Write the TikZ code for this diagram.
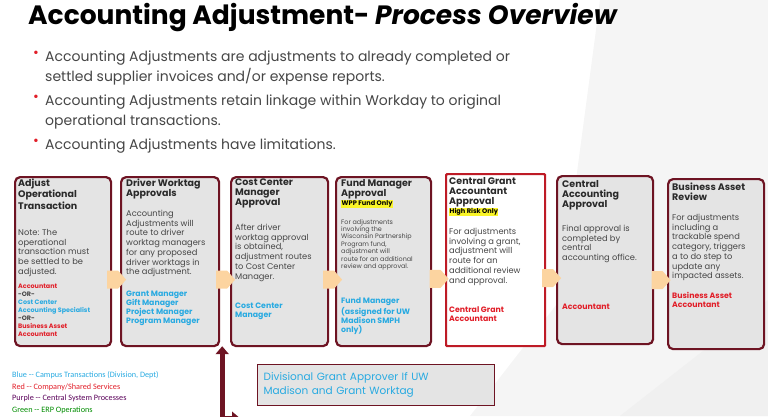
\documentclass[tikz,border=0pt]{standalone}
\usepackage{fontspec}
\setmainfont{Poppins}
\newfontfamily\legendfont{Carlito}
\usetikzlibrary{positioning,calc,arrows.meta}
\definecolor{wine}{RGB}{110,20,35}
\definecolor{uwred}{RGB}{225,30,40}
\definecolor{uwblue}{RGB}{40,170,225}
\definecolor{boxgray}{RGB}{228,228,228}
\definecolor{textgray}{RGB}{70,70,70}
\definecolor{peach}{RGB}{252,212,160}
\definecolor{hl}{RGB}{250,245,40}
\begin{document}
\begin{tikzpicture}[x=1pt,y=-1pt,
  stepbox/.style={draw=wine,line width=2.2pt,fill=boxgray,rounded corners=5pt,anchor=north west,inner sep=0pt},
  head/.style={anchor=north west,font=\bfseries\fontsize{9.5}{10}\selectfont,text=textgray!60!black,align=left,inner sep=0pt},
  body/.style={anchor=north west,font=\fontsize{8.3}{9.7}\selectfont,text=textgray,align=left,inner sep=0pt},
  role/.style={anchor=north west,font=\bfseries\fontsize{7.8}{9}\selectfont,align=left,inner sep=0pt},
  legend/.style={anchor=west,font=\legendfont\fontsize{8.2}{9}\selectfont,inner sep=0pt}
  ]
  \useasboundingbox (0,0) rectangle (768,416);
  % faint background shapes
  \fill[gray!8] (600,0) -- (768,0) -- (768,416) -- (470,416) -- (560,300) -- cycle;
  \fill[gray!12] (620,416) -- (768,300) -- (768,416) -- cycle;

  \node[anchor=west,inner sep=0pt,font=\bfseries\fontsize{26.5}{28}\selectfont] (title) at (28,18)
    {Accounting Adjustment- \textit{Process Overview}};

  \foreach \n/\y/\t in {b1/60/{Accounting Adjustments are adjustments to already completed or\\settled supplier invoices and/or expense reports.},
    b2/104/{Accounting Adjustments retain linkage within Workday to original\\operational transactions.},
    b3/148/{Accounting Adjustments have limitations.}}{
    \node[anchor=north west,inner sep=0pt,font=\fontsize{14}{20}\selectfont,text=textgray,align=left] (\n) at (45,\y-9) {\t};
    \node[anchor=north east,inner sep=0pt,text=uwred,font=\fontsize{14}{20}\selectfont] (\n dot) at ([xshift=-6pt]\n.north west) {\textbullet};
  }

  % boxes
  \node[stepbox,minimum width=96pt,minimum height=169pt] (s1) at (14,176) {};
  \node[stepbox,minimum width=98pt,minimum height=169pt] (s2) at (120,176) {};
  \node[stepbox,minimum width=97pt,minimum height=169pt] (s3) at (230,176) {};
  \node[stepbox,minimum width=95pt,minimum height=169pt] (s4) at (335,176) {};
  \node[stepbox,fill=white,draw=uwred!70!wine,rounded corners=1pt,minimum width=99pt,minimum height=172pt] (s5) at (445,173) {};
  \node[stepbox,minimum width=96pt,minimum height=168pt] (s6) at (556,175) {};
  \node[stepbox,minimum width=96pt,minimum height=170pt] (s7) at (667,178) {};

  % chevrons
  \foreach \a/\b in {s1/s2,s2/s3,s3/s4,s4/s5,s5/s6,s6/s7}{
    \coordinate (\a\b) at ($(\a.east)!0.5!(\b.west)$);
    \fill[peach] ([xshift=-9pt,yshift=-9pt]\a\b) -- ++(11,0) -- ++(8,9) -- ++(-8,9) -- ++(-11,0) -- cycle;
  }

  % box 1
  \node[head] (h1) at (18,179) {Adjust\\Operational\\Transaction};
  \node[body] (t1) at (18,229) {Note: The\\operational\\transaction must\\be settled to be\\adjusted.};
  \node[role,font=\bfseries\fontsize{6.4}{8}\selectfont] (r1) at (18,284)
    {\textcolor{uwred}{Accountant}\\\textcolor{textgray}{-OR-}\\\textcolor{uwblue}{Cost Center}\\\textcolor{uwblue}{Accounting Specialist}\\\textcolor{textgray}{-OR-}\\\textcolor{uwred}{Business Asset}\\\textcolor{uwred}{Accountant}};
  % box 2
  \node[head] (h2) at (126,179) {Driver Worktag\\Approvals};
  \node[body] (t2) at (126,210) {Accounting\\Adjustments will\\route to driver\\worktag managers\\for any proposed\\driver worktags in\\the adjustment.};
  \node[role,text=uwblue] (r2) at (126,291) {Grant Manager\\Gift Manager\\Project Manager\\Program Manager};
  % box 3
  \node[head] (h3) at (235,179) {Cost Center\\Manager\\Approval};
  \node[body] (t3) at (235,224) {After driver\\worktag approval\\is obtained,\\adjustment routes\\to Cost Center\\Manager.};
  \node[role,text=uwblue] (r3) at (235,303) {Cost Center\\Manager};
  % box 4
  \node[head] (h4) at (341,179) {Fund Manager\\Approval};
  \node[role,font=\bfseries\fontsize{6.6}{8}\selectfont,fill=hl,inner sep=0.5pt] (w4) at (341,200) {WPP Fund Only};
  \node[body,font=\fontsize{6.4}{7.4}\selectfont] (t4) at (341,219) {For adjustments\\involving the\\Wisconsin Partnership\\Program fund,\\adjustment will\\route for an additional\\review and approval.};
  \node[role,text=uwblue] (r4) at (341,298) {Fund Manager\\(assigned for UW\\Madison SMPH\\only)};
  % box 5
  \node[head] (h5) at (449,177) {Central Grant\\Accountant\\Approval};
  \node[role,font=\bfseries\fontsize{6.6}{8}\selectfont,fill=hl,inner sep=0.5pt] (w5) at (449,208) {High Risk Only};
  \node[body] (t5) at (449,228) {For adjustments\\involving a grant,\\adjustment will\\route for an\\additional review\\and approval.};
  \node[role,text=uwred] (r5) at (449,307) {Central Grant\\Accountant};
  % box 6
  \node[head] (h6) at (562,180) {Central\\Accounting\\Approval};
  \node[body] (t6) at (562,225) {Final approval is\\completed by\\central\\accounting office.};
  \node[role,text=uwred] (r6) at (562,304) {Accountant};
  % box 7
  \node[head] (h7) at (672,183) {Business Asset\\Review};
  \node[body] (t7) at (672,214) {For adjustments\\including a\\trackable spend\\category, triggers\\a to do step to\\update any\\impacted assets.};
  \node[role,text=uwred] (r7) at (672,292) {Business Asset\\Accountant};

  % divisional approver
  \node[anchor=north west,draw=wine,line width=1.2pt,fill=boxgray,minimum width=237pt,minimum height=41pt,
    text width=225pt,align=left,inner sep=4pt,text=uwblue,font=\fontsize{10.5}{14}\selectfont] (div) at (257,364)
    {Divisional Grant Approver If UW\\Madison and Grant Worktag};
  \coordinate (corner) at ([xshift=2pt]s2.south east |- div.south);
  \draw[wine,line width=5pt,{Triangle[width=13pt,length=8pt]}-{Triangle[width=13pt,length=8pt]}]
    ([xshift=2pt,yshift=1pt]s2.south east) -- ([yshift=-12pt]corner) -- ([xshift=-17pt,yshift=-12pt]div.south west);

  % legend
  \node[legend,text=uwblue] (l1) at (12,375) {Blue -- Campus Transactions (Division, Dept)};
  \node[legend,text=uwred] (l2) at (12,387) {Red -- Company/Shared Services};
  \node[legend,text=violet!70!black] (l3) at (12,398) {Purple -- Central System Processes};
  \node[legend,text=green!55!black] (l4) at (12,410) {Green -- ERP Operations};
\end{tikzpicture}
\end{document}
